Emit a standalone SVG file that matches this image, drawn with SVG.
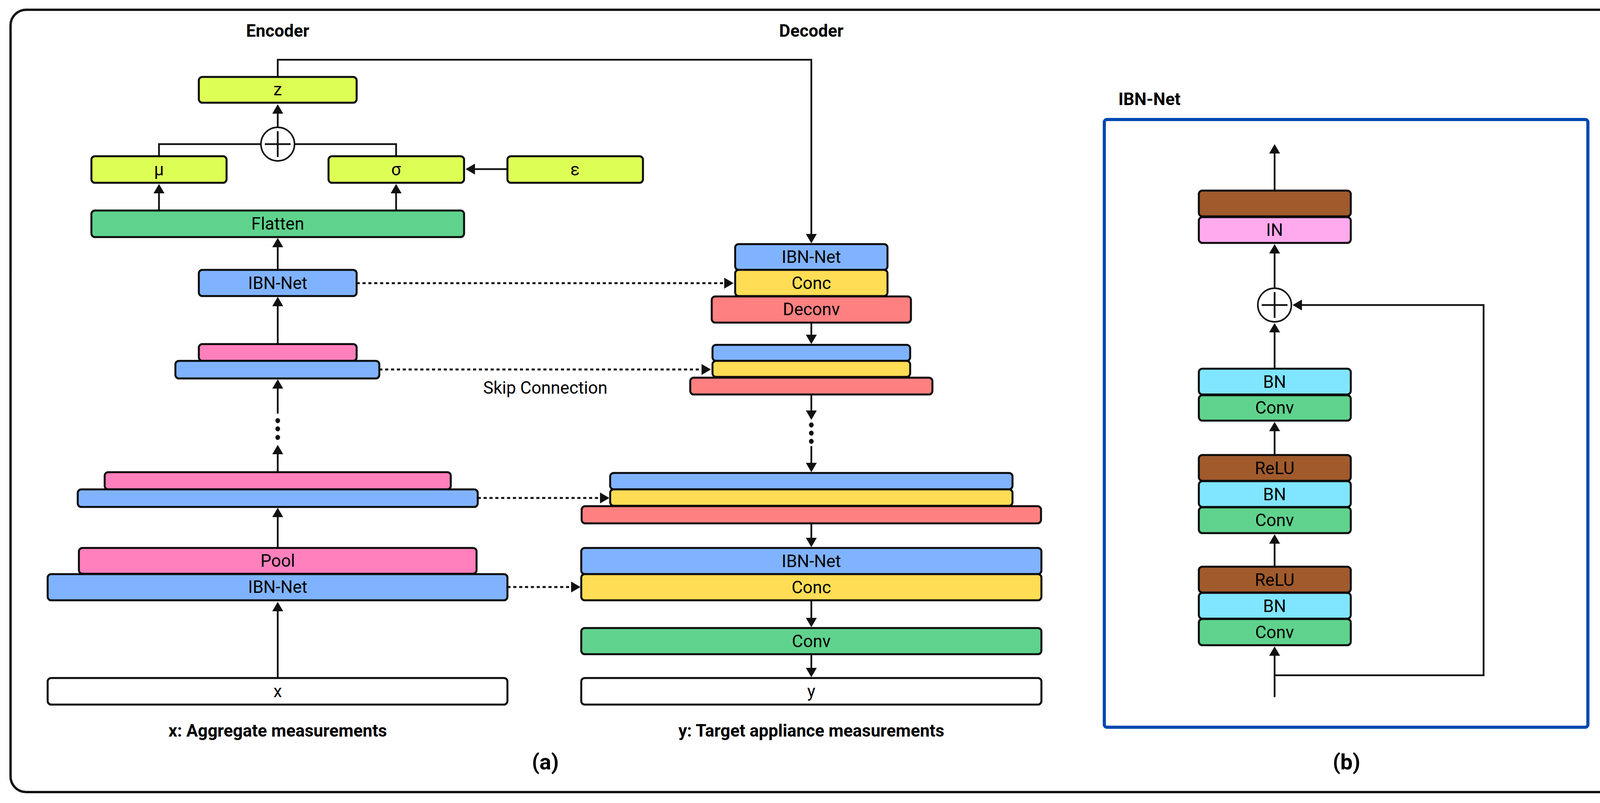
<svg xmlns="http://www.w3.org/2000/svg" width="4181" height="2056" viewBox="0 0 4181 2056">
<defs>
<style>
.b{stroke:#0a0a0a;stroke-width:5}
.lg{fill:#DDFF55}.gr{fill:#5FD38D}.bl{fill:#80B3FF}.pk{fill:#FF80BC}.ye{fill:#FFDD55}.rd{fill:#FF8080}.br{fill:#A05A2C}.cy{fill:#80E5FF}.in{fill:#FFAAEE}.wh{fill:#FFFFFF}
text{font-family:Roboto,"Liberation Sans",sans-serif;font-size:44px;fill:#000;text-anchor:middle}
.t{font-weight:bold}
.c{fill:none;stroke:#111;stroke-width:4.5}
.d{fill:none;stroke:#111;stroke-width:5;stroke-dasharray:8 7}
.a{marker-end:url(#ah)}
</style>
<marker id="ah" markerUnits="userSpaceOnUse" markerWidth="24" markerHeight="28" viewBox="0 0 24 28" refX="14" refY="14" orient="auto"><path d="M0,0 L24,14 L0,28 z" fill="#111"/></marker>
</defs>
<rect x="27" y="25" width="4127" height="2003" rx="40" fill="#fff" stroke="#111" stroke-width="6"/>
<text class="t" x="711" y="94">Encoder</text>
<text class="t" x="2077" y="94">Decoder</text>
<text class="t" x="2863" y="269" style="text-anchor:start">IBN-Net</text>
<text class="t" x="1396" y="1970" style="font-size:56px">(a)</text>
<text class="t" x="3447" y="1970" style="font-size:56px">(b)</text>
<text class="t" x="711" y="1886">x: Aggregate measurements</text>
<text class="t" x="2077" y="1886">y: Target appliance measurements</text>
<text x="1396" y="1008">Skip Connection</text>
<g id="connectors">
<path class="c a" d="M711,1736 V1551"/>
<path class="c a" d="M711,1403 V1310"/>
<path class="c a" d="M711,1209 V1149"/>
<path class="c a" d="M711,1059 V981"/>
<path class="c a" d="M711,881 V770"/>
<path class="c a" d="M711,691 V619"/>
<path class="c a" d="M407,539 V481"/>
<path class="c a" d="M1014,539 V481"/>
<path class="c" d="M407,400 V369 H668"/>
<path class="c" d="M1014,400 V369 H754"/>
<path class="c a" d="M711,326 V277"/>
<path class="c a" d="M711,196 V153 H2077 V613"/>
<path class="c a" d="M1299,433 H1202"/>
<path class="c a" d="M2077,826 V871"/>
<path class="c a" d="M2077,1011 V1065"/>
<path class="c a" d="M2077,1142 V1199"/>
<path class="c a" d="M2077,1340 V1391"/>
<path class="c a" d="M2077,1537 V1596"/>
<path class="c a" d="M2077,1675 V1724"/>
<path class="d a" d="M913,725 H1868"/>
<path class="d a" d="M971,946 H1810"/>
<path class="d a" d="M1223,1275 H1550"/>
<path class="d a" d="M1299,1503 H1476"/>
<g fill="#111">
<ellipse cx="711" cy="1077" rx="6" ry="6.5"/><ellipse cx="711" cy="1098" rx="6" ry="6.5"/><ellipse cx="711" cy="1120" rx="6" ry="6.5"/>
<ellipse cx="2077" cy="1088" rx="6" ry="6.5"/><ellipse cx="2077" cy="1109" rx="6" ry="6.5"/><ellipse cx="2077" cy="1130" rx="6" ry="6.5"/>
</g>
<path class="c a" d="M3263,488 V379"/>
<path class="c a" d="M3263,738 V635"/>
<path class="c a" d="M3263,944 V837"/>
<path class="c a" d="M3263,1165 V1090"/>
<path class="c a" d="M3263,1451 V1378"/>
<path class="c a" d="M3263,1785 V1665"/>
<path class="c a" d="M3263,1729 H3798 V781 H3319"/>
</g>
<g id="enc-z"><rect class="b lg" x="509" y="197" width="404" height="66" rx="9"/><text x="711" y="244">z</text></g>
<g id="enc-plus"><circle cx="711" cy="369" r="43" fill="#fff" stroke="#111" stroke-width="4"/><path d="M678,369 H744 M711,336 V402" stroke="#111" stroke-width="4.5"/></g>
<g id="enc-mu"><rect class="b lg" x="234" y="400" width="346" height="68" rx="9"/><text x="407" y="449">μ</text></g>
<g id="enc-sigma"><rect class="b lg" x="841" y="400" width="347" height="68" rx="9"/><text x="1014" y="449">σ</text></g>
<g id="enc-eps"><rect class="b lg" x="1299" y="400" width="347" height="68" rx="9"/><text x="1472" y="449">ε</text></g>
<g id="enc-flatten"><rect class="b gr" x="234" y="539" width="954" height="68" rx="9"/><text x="711" y="588">Flatten</text></g>
<g id="enc-ibn1"><rect class="b bl" x="509" y="691" width="404" height="67" rx="9"/><text x="711" y="740">IBN-Net</text></g>
<g id="enc-block2"><rect class="b pk" x="509" y="881" width="404" height="43" rx="9"/><rect class="b bl" x="449" y="924" width="522" height="45" rx="9"/></g>
<g id="enc-block3"><rect class="b pk" x="268" y="1209" width="886" height="44" rx="9"/><rect class="b bl" x="199" y="1253" width="1024" height="45" rx="9"/></g>
<g id="enc-pool"><rect class="b pk" x="202" y="1403" width="1018" height="66" rx="9"/><text x="711" y="1451">Pool</text></g>
<g id="enc-ibn0"><rect class="b bl" x="122" y="1470" width="1177" height="67" rx="9"/><text x="711" y="1518">IBN-Net</text></g>
<g id="enc-x"><rect class="b wh" x="122" y="1736" width="1177" height="68" rx="9"/><text x="711" y="1785">x</text></g>
<g id="dec-block1"><rect class="b bl" x="1882" y="625" width="390" height="66" rx="9"/><text x="2077" y="673">IBN-Net</text>
<rect class="b ye" x="1882" y="691" width="390" height="67" rx="9"/><text x="2077" y="740">Conc</text>
<rect class="b rd" x="1822" y="759" width="510" height="67" rx="9"/><text x="2077" y="807">Deconv</text></g>
<g id="dec-block2"><rect class="b bl" x="1824" y="883" width="506" height="41" rx="9"/><rect class="b ye" x="1824" y="924" width="506" height="41" rx="9"/><rect class="b rd" x="1767" y="967" width="620" height="43" rx="9"/></g>
<g id="dec-block3"><rect class="b bl" x="1562" y="1211" width="1030" height="42" rx="9"/><rect class="b ye" x="1562" y="1253" width="1030" height="42" rx="9"/><rect class="b rd" x="1489" y="1296" width="1176" height="44" rx="9"/></g>
<g id="dec-ibn"><rect class="b bl" x="1488" y="1403" width="1178" height="67" rx="9"/><text x="2077" y="1452">IBN-Net</text></g>
<g id="dec-conc"><rect class="b ye" x="1488" y="1470" width="1178" height="67" rx="9"/><text x="2077" y="1519">Conc</text></g>
<g id="dec-conv"><rect class="b gr" x="1488" y="1608" width="1178" height="67" rx="9"/><text x="2077" y="1657">Conv</text></g>
<g id="dec-y"><rect class="b wh" x="1488" y="1736" width="1178" height="68" rx="9"/><text x="2077" y="1785">y</text></g>
<g id="ibn-frame"><rect x="2827" y="306" width="1238" height="1556" rx="7" fill="none" stroke="#0048B0" stroke-width="8"/></g>
<g id="ibn-out"><rect class="b br" x="3069" y="488" width="389" height="66" rx="9"/><rect class="b in" x="3069" y="556" width="389" height="66" rx="9"/><text x="3263" y="604">IN</text></g>
<g id="ibn-plus"><circle cx="3263" cy="781" r="43" fill="#fff" stroke="#111" stroke-width="4"/><path d="M3230,781 H3296 M3263,748 V814" stroke="#111" stroke-width="4.5"/></g>
<g id="ibn-s3"><rect class="b cy" x="3069" y="944" width="389" height="66" rx="9"/><text x="3263" y="993">BN</text>
<rect class="b gr" x="3069" y="1012" width="389" height="65" rx="9"/><text x="3263" y="1059">Conv</text></g>
<g id="ibn-s2"><rect class="b br" x="3069" y="1165" width="389" height="66" rx="9"/><text x="3263" y="1214">ReLU</text>
<rect class="b cy" x="3069" y="1232" width="389" height="66" rx="9"/><text x="3263" y="1281">BN</text>
<rect class="b gr" x="3069" y="1299" width="389" height="66" rx="9"/><text x="3263" y="1347">Conv</text></g>
<g id="ibn-s1"><rect class="b br" x="3069" y="1451" width="389" height="66" rx="9"/><text x="3263" y="1500">ReLU</text>
<rect class="b cy" x="3069" y="1518" width="389" height="66" rx="9"/><text x="3263" y="1567">BN</text>
<rect class="b gr" x="3069" y="1585" width="389" height="67" rx="9"/><text x="3263" y="1634">Conv</text></g>
</svg>
